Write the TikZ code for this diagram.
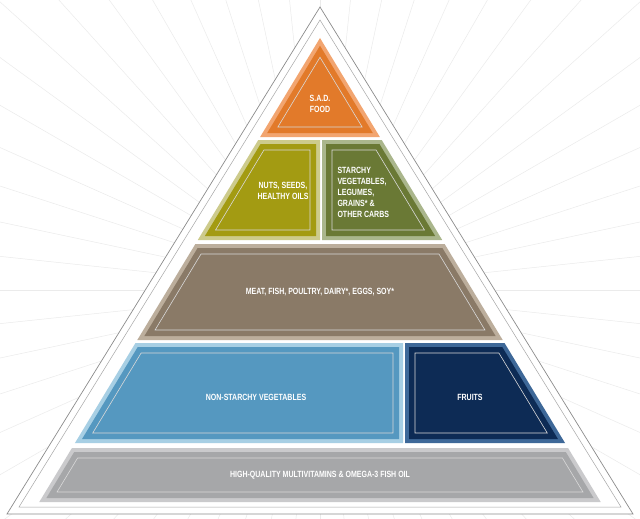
\documentclass[tikz,border=0pt]{standalone}
\usepackage{fontspec}
\setmainfont{Liberation Sans}[FakeStretch=0.78]
\begin{document}
\begin{tikzpicture}[x=1pt,y=-1pt,
  declare function={L(\y)=320-0.605*(\y-38); R(\y)=320+0.605*(\y-38);},
  lbl/.style={text=white,font=\fontsize{9}{11}\selectfont\bfseries,align=center},
  outl/.style={draw=white!85!black,line width=0.6pt}]
\definecolor{orO}{HTML}{F2A570}\definecolor{orI}{HTML}{E27A2A}
\definecolor{olO}{HTML}{CDCB8C}\definecolor{olI}{HTML}{A39B12}
\definecolor{grO}{HTML}{AAB68C}\definecolor{grI}{HTML}{6A7935}
\definecolor{brO}{HTML}{BCAE9C}\definecolor{brI}{HTML}{8A7A67}
\definecolor{blO}{HTML}{A7CFE4}\definecolor{blI}{HTML}{5598C0}
\definecolor{nvO}{HTML}{3E6898}\definecolor{nvI}{HTML}{0D2B55}
\definecolor{gyO}{HTML}{CACACC}\definecolor{gyI}{HTML}{A6A7A9}
\newcommand\trap[6]{\path[#6]
 ({ifthenelse(#3<0,L(#1+#5)+1.17*#5,#3+#5)},{#1+#5}) --
 ({ifthenelse(#4<0,R(#1+#5)-1.17*#5,#4-#5)},{#1+#5}) --
 ({ifthenelse(#4<0,R(#2-#5)-1.17*#5,#4-#5)},{#2-#5}) --
 ({ifthenelse(#3<0,L(#2-#5)+1.17*#5,#3+#5)},{#2-#5}) -- cycle;}
\newcommand\tri[3]{\path[#3] (320,{38+1.93*#2}) --
 ({R(#1-#2)-1.17*#2},{#1-#2}) -- ({L(#1-#2)+1.17*#2},{#1-#2}) -- cycle;}
\useasboundingbox (0,0) rectangle (640,519);
\fill[white] (0,0) rectangle (640,519);
\begin{scope}
\clip (0,0) rectangle (640,519);
\foreach \a in {0,6,...,354}
  \draw[black!8,line width=0.5pt] (320,290) -- ++(\a:600);
\end{scope}
\filldraw[fill=white,draw=black!45,line width=0.7pt] (320,7) -- (633,514) -- (7,514) -- cycle;
\draw[black!35,line width=0.5pt] (320,20) -- (621,507) -- (19,507) -- cycle;
% orange
\tri{137}{0}{fill=orO}\tri{137}{4}{fill=orI}\tri{137}{10}{outl}
% green
\trap{140}{240}{-1}{320}{0}{fill=olO}\trap{140}{240}{-1}{320}{4}{fill=olI}\trap{140}{240}{-1}{320}{10}{outl}
\trap{140}{240}{322}{-1}{0}{fill=grO}\trap{140}{240}{322}{-1}{4}{fill=grI}\trap{140}{240}{322}{-1}{10}{outl}
% brown
\trap{244}{340}{-1}{-1}{0}{fill=brO}\trap{244}{340}{-1}{-1}{4}{fill=brI}\trap{244}{340}{-1}{-1}{10}{outl}
% blue
\trap{343}{443}{-1}{403}{0}{fill=blO}\trap{343}{443}{-1}{403}{4}{fill=blI}\trap{343}{443}{-1}{403}{10}{outl}
\trap{343}{443}{405}{-1}{0}{fill=nvO}\trap{343}{443}{405}{-1}{4}{fill=nvI}\trap{343}{443}{405}{-1}{10}{outl}
% gray
\trap{448}{502}{-1}{-1}{0}{fill=gyO}\trap{448}{502}{-1}{-1}{4}{fill=gyI}\trap{448}{502}{-1}{-1}{10}{outl}
\node[lbl] (sad) at (320,104) {S.A.D.\\FOOD};
\node[lbl] (nuts) at (283,191) {NUTS, SEEDS,\\HEALTHY OILS};
\node[lbl,align=left,anchor=west] (starchy) at (334,192) {STARCHY\\VEGETABLES,\\LEGUMES,\\GRAINS* \&\\OTHER CARBS};
\node[lbl] (meat) at (320,292) {MEAT, FISH, POULTRY, DAIRY*, EGGS, SOY*};
\node[lbl] (veg) at (256,397) {NON-STARCHY VEGETABLES};
\node[lbl] (fruits) at (470,397) {FRUITS};
\node[lbl] (vit) at (320,475) {HIGH-QUALITY MULTIVITAMINS \& OMEGA-3 FISH OIL};
\end{tikzpicture}
\end{document}
